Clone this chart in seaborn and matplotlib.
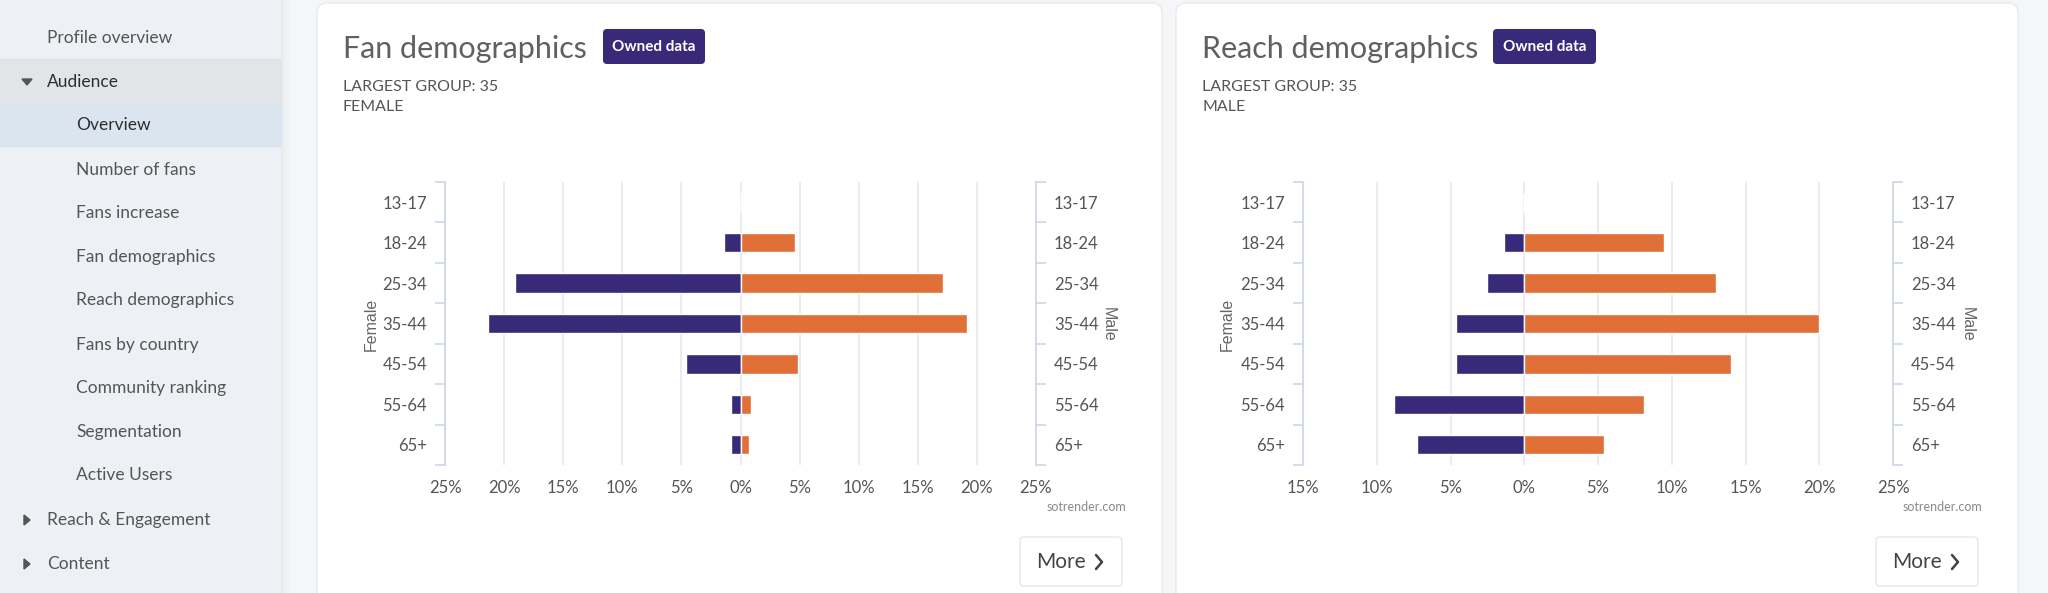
import numpy as np
import pandas as pd
import matplotlib
matplotlib.use("Agg")
import matplotlib.pyplot as plt
from matplotlib.patches import Rectangle, FancyBboxPatch
from matplotlib.ticker import FuncFormatter
import seaborn as sns

# data (percent of audience)
ages = ["13-17", "18-24", "25-34", "35-44", "45-54", "55-64", "65+"]
fan_female = [0.0, 1.4, 19.1, 21.4, 4.6, 0.8, 0.8]
fan_male = [0.0, 4.6, 17.1, 19.2, 4.9, 0.9, 0.7]
reach_female = [0.0, 1.4, 2.5, 4.6, 4.6, 8.8, 7.3]
reach_male = [0.0, 9.5, 13.0, 20.0, 14.0, 8.1, 5.4]

menu_items = ["Profile overview", "Audience", "Overview", "Number of fans", "Fans increase",
              "Fan demographics", "Reach demographics", "Fans by country", "Community ranking",
              "Segmentation", "Active Users", "Reach & Engagement", "Content"]
menu_level = [0, 0, 1, 1, 1, 1, 1, 1, 1, 1, 1, 0, 0]

PURPLE = "#382a78"
ORANGE = "#e16f38"
AXCOL = "#cdd6ea"
GRID = "#e6e9f0"

sns.set_theme(style="white")
plt.rcParams["font.family"] = ["Lato", "DejaVu Sans"]

W, H = 2048, 593
fig = plt.figure(figsize=(W / 100, H / 100), dpi=100)
fig.patch.set_facecolor("#f5f6f8")

# background layer in pixel coordinates
bg = fig.add_axes([0, 0, 1, 1])
bg.set_xlim(0, W)
bg.set_ylim(H, 0)
bg.axis("off")

# sidebar
bg.add_patch(Rectangle((0, 0), 281, H, color="#edf0f4", zorder=0))
for i in range(10):
    bg.add_patch(Rectangle((281 + i, 0), 1, H, color="#d8dbe0", alpha=0.35 * (1 - i / 10), lw=0, zorder=0))
bg.add_patch(Rectangle((0, 59), 281, 45, color="#e3e4e7", zorder=1))
bg.add_patch(Rectangle((0, 104), 281, 42, color="#dbe5ef", zorder=1))

menu_y = [38, 82, 125, 170, 213, 257, 300, 345, 388, 432, 475, 520, 564]
for name, lvl, y in zip(menu_items, menu_level, menu_y):
    x = 47 if lvl == 0 else 76
    col = "#2e2e2e" if name in ("Audience", "Overview") else "#555555"
    bg.text(x, y, name, fontsize=12.5, color=col, va="center", ha="left", zorder=2)
# expand / collapse arrows
bg.fill([22, 32, 27], [79, 79, 85], color="#555555", zorder=2)
for y in (520, 564):
    bg.fill([24, 24, 30], [y - 5, y + 5, y], color="#555555", zorder=2)

# cards
cards = [
    dict(x0=317, x1=1162, title="Fan demographics", badge=(603, 705), group="FEMALE",
         ax=(445, 1036), female_x=371, male_x=1108, xmin=-25,
         female=fan_female, male=fan_male),
    dict(x0=1176, x1=2018, title="Reach demographics", badge=(1493, 1596), group="MALE",
         ax=(1303, 1893), female_x=1227, male_x=1967, xmin=-15,
         female=reach_female, male=reach_male),
]

for c in cards:
    bg.add_patch(FancyBboxPatch((c["x0"], 3), c["x1"] - c["x0"], 640,
                                boxstyle="round,pad=0,rounding_size=10",
                                fc="white", ec="#e9eaee", lw=1, zorder=1))
    tx = c["x0"] + 26
    bg.text(tx, 49, c["title"], fontsize=22, color="#606060", va="center", ha="left", zorder=2)
    b0, b1 = c["badge"]
    bg.add_patch(FancyBboxPatch((b0, 29), b1 - b0, 35, boxstyle="round,pad=0,rounding_size=4",
                                fc=PURPLE, ec="none", zorder=2))
    bg.text((b0 + b1) / 2, 47, "Owned data", fontsize=11, color="white", fontweight="bold",
            va="center", ha="center", zorder=3)
    bg.text(tx, 87, "LARGEST GROUP: 35", fontsize=11.5, color="#555555", va="center", zorder=2)
    bg.text(tx, 107, c["group"], fontsize=11.5, color="#555555", va="center", zorder=2)
    bg.text(c["x1"] - 36, 507, "sotrender.com", fontsize=9, color="#8a8a8a", va="center",
            ha="right", zorder=2)
    # "More" button
    m1 = c["x1"] - 40
    m0 = m1 - 102
    bg.add_patch(FancyBboxPatch((m0, 537), m1 - m0, 49, boxstyle="round,pad=0,rounding_size=4",
                                fc="white", ec="#e6e6ea", lw=1, zorder=2))
    bg.text(m0 + 16, 562, "More", fontsize=15, color="#444444", va="center", ha="left", zorder=3)
    bg.plot([m1 - 26, m1 - 20, m1 - 26], [555, 562, 569], color="#444444", lw=1.8, zorder=3)

    bg.text(c["female_x"], 324, "Female", fontsize=11.5, color="#666666", rotation=90,
            va="center", ha="center", family=["Liberation Sans", "DejaVu Sans"], zorder=2)
    bg.text(c["male_x"], 324, "Male", fontsize=11.5, color="#666666", rotation=-90,
            va="center", ha="center", family=["Liberation Sans", "DejaVu Sans"], zorder=2)

    # pyramid chart
    a0, a1 = c["ax"]
    ax = fig.add_axes([a0 / W, 1 - 465 / H, (a1 - a0) / W, (465 - 182) / H])
    ax.patch.set_alpha(0)
    df = pd.DataFrame({
        "age": ages * 2,
        "value": [-v for v in c["female"]] + list(c["male"]),
        "gender": ["Female"] * len(ages) + ["Male"] * len(ages),
    })
    sns.barplot(data=df, y="age", x="value", hue="gender", order=ages,
                palette={"Female": PURPLE, "Male": ORANGE}, saturation=1, dodge=False, orient="h",
                width=0.48, edgecolor="white", linewidth=1, legend=False, ax=ax, zorder=3)
    ax.set_xlim(c["xmin"], 25)
    ax.set_ylim(6.5, -0.5)
    ax.set_xticks(np.arange(c["xmin"], 26, 5))
    ax.xaxis.set_major_formatter(FuncFormatter(lambda v, p: f"{abs(v):.0f}%"))
    ax.xaxis.grid(True, color=GRID, lw=1.2, zorder=0)
    ax.set_axisbelow(True)
    ax.set_xlabel("")
    ax.set_ylabel("")
    ax.tick_params(axis="x", length=0, pad=11, labelsize=12, labelcolor="#555555")
    ax.tick_params(axis="y", which="major", length=0, left=False, right=False,
                   labelleft=True, labelright=True, pad=13, labelsize=12, labelcolor="#555555")
    ax.set_yticks(np.arange(-0.5, 7, 1), minor=True)
    ax.tick_params(axis="y", which="minor", left=True, right=True, length=7, width=1.2, color=AXCOL)
    for s in ("top", "bottom"):
        ax.spines[s].set_visible(False)
    for s in ("left", "right"):
        ax.spines[s].set_color(AXCOL)
        ax.spines[s].set_linewidth(1.2)

fig.savefig("out.png", dpi=100, facecolor=fig.get_facecolor())
